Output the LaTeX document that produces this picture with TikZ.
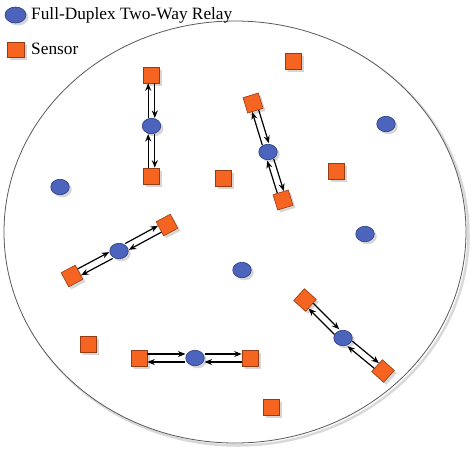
\documentclass[tikz,border=0pt]{standalone}
\usepackage{fontspec}
\setmainfont{Liberation Serif}
\usetikzlibrary{shapes.geometric,shadows,arrows.meta}
\definecolor{relayfill}{RGB}{76,100,188}
\definecolor{relayline}{RGB}{42,60,128}
\definecolor{sensfill}{RGB}{245,100,32}
\definecolor{sensline}{RGB}{150,60,20}
\definecolor{ringline}{RGB}{90,90,90}
\begin{document}
\begin{tikzpicture}[x=1pt,y=-1pt,
 shad/.style={drop shadow={shadow xshift=2.5pt,shadow yshift=-2.5pt,fill=black!16,opacity=1}},
 relay/.style={ellipse,draw=relayline,fill=relayfill,line width=0.6pt,minimum width=18.5pt,minimum height=15.5pt,inner sep=0pt,shad},
 sensor/.style={rectangle,draw=sensline,fill=sensfill,line width=0.6pt,minimum size=16pt,inner sep=0pt,shad},
 arr/.style={line width=1.2pt,-{Stealth[length=7.5pt,width=6pt]}},
 lbl/.style={anchor=base west,font=\fontsize{17.3}{20}\selectfont,inner sep=0pt}]
\useasboundingbox (0,0) rectangle (474,451);
% field
\draw[black!15,line width=2.5pt] (237.5,234.5) ellipse [x radius=231,y radius=211];
\draw[ringline,line width=0.8pt,fill=white] (235,232) ellipse [x radius=231,y radius=211];
% legend
\node[relay,minimum width=21pt,minimum height=16pt] (legR) at (15.5,15) {};
\node[sensor,minimum width=17pt,minimum height=15pt] (legS) at (15.5,49.5) {};
\node[lbl] (legRt) at (31,19.5) {Full-Duplex Two-Way Relay};
\node[lbl] (legSt) at (31,54) {Sensor};
% pair 1 (vertical)
\node[sensor] (a1) at (151.5,75) {};
\node[relay] (r1) at (151.5,126) {};
\node[sensor] (b1) at (151.5,176) {};
\draw[arr,transform canvas={shift={(-3.3,0)}}] (r1) -- (a1);
\draw[arr,transform canvas={shift={(-3.3,0)}}] (b1) -- (r1);
\draw[arr,transform canvas={shift={(3.3,0)}}] (a1) -- (r1);
\draw[arr,transform canvas={shift={(3.3,0)}}] (r1) -- (b1);
% pair 2 (steep)
\node[sensor,rotate=17] (a2) at (253,103) {};
\node[relay] (r2) at (268,152) {};
\node[sensor,rotate=17] (b2) at (283,200) {};
\draw[arr,transform canvas={shift={(-3.25,1.0)}}] (r2) -- (a2);
\draw[arr,transform canvas={shift={(-3.25,1.0)}}] (b2) -- (r2);
\draw[arr,transform canvas={shift={(3.25,-1.0)}}] (a2) -- (r2);
\draw[arr,transform canvas={shift={(3.25,-1.0)}}] (r2) -- (b2);
% pair 3 (rising)
\node[sensor,rotate=28] (a3) at (72,276) {};
\node[relay] (r3) at (119,251) {};
\node[sensor,rotate=28] (b3) at (167,225) {};
\draw[arr,transform canvas={shift={(-1.7,-3.2)}}] (a3) -- (r3);
\draw[arr,transform canvas={shift={(-1.7,-3.2)}}] (r3) -- (b3);
\draw[arr,transform canvas={shift={(1.7,3.2)}}] (b3) -- (r3);
\draw[arr,transform canvas={shift={(1.7,3.2)}}] (r3) -- (a3);
% pair 4 (horizontal)
\node[sensor] (a4) at (139,358) {};
\node[relay] (r4) at (195,358) {};
\node[sensor] (b4) at (250,358) {};
\draw[arr,transform canvas={shift={(0,-4)}}] (a4) -- (r4);
\draw[arr,transform canvas={shift={(0,-4)}}] (r4) -- (b4);
\draw[arr,transform canvas={shift={(0,4)}}] (b4) -- (r4);
\draw[arr,transform canvas={shift={(0,4)}}] (r4) -- (a4);
% pair 5 (falling)
\node[sensor,rotate=-42] (a5) at (305,300) {};
\node[relay] (r5) at (343,338) {};
\node[sensor,rotate=-42] (b5) at (383,371) {};
\draw[arr,transform canvas={shift={(2.35,-2.6)}}] (a5) -- (r5);
\draw[arr,transform canvas={shift={(2.35,-2.6)}}] (r5) -- (b5);
\draw[arr,transform canvas={shift={(-2.35,2.6)}}] (b5) -- (r5);
\draw[arr,transform canvas={shift={(-2.35,2.6)}}] (r5) -- (a5);
% lone sensors
\node[sensor] (s1) at (293,61) {};
\node[sensor] (s2) at (223,178) {};
\node[sensor] (s3) at (336,171) {};
\node[sensor] (s4) at (88,344) {};
\node[sensor] (s5) at (271,407) {};
% lone relays
\node[relay] (q1) at (386,124) {};
\node[relay] (q2) at (60,187) {};
\node[relay] (q3) at (365,234) {};
\node[relay] (q4) at (242,270) {};
\end{tikzpicture}
\end{document}
